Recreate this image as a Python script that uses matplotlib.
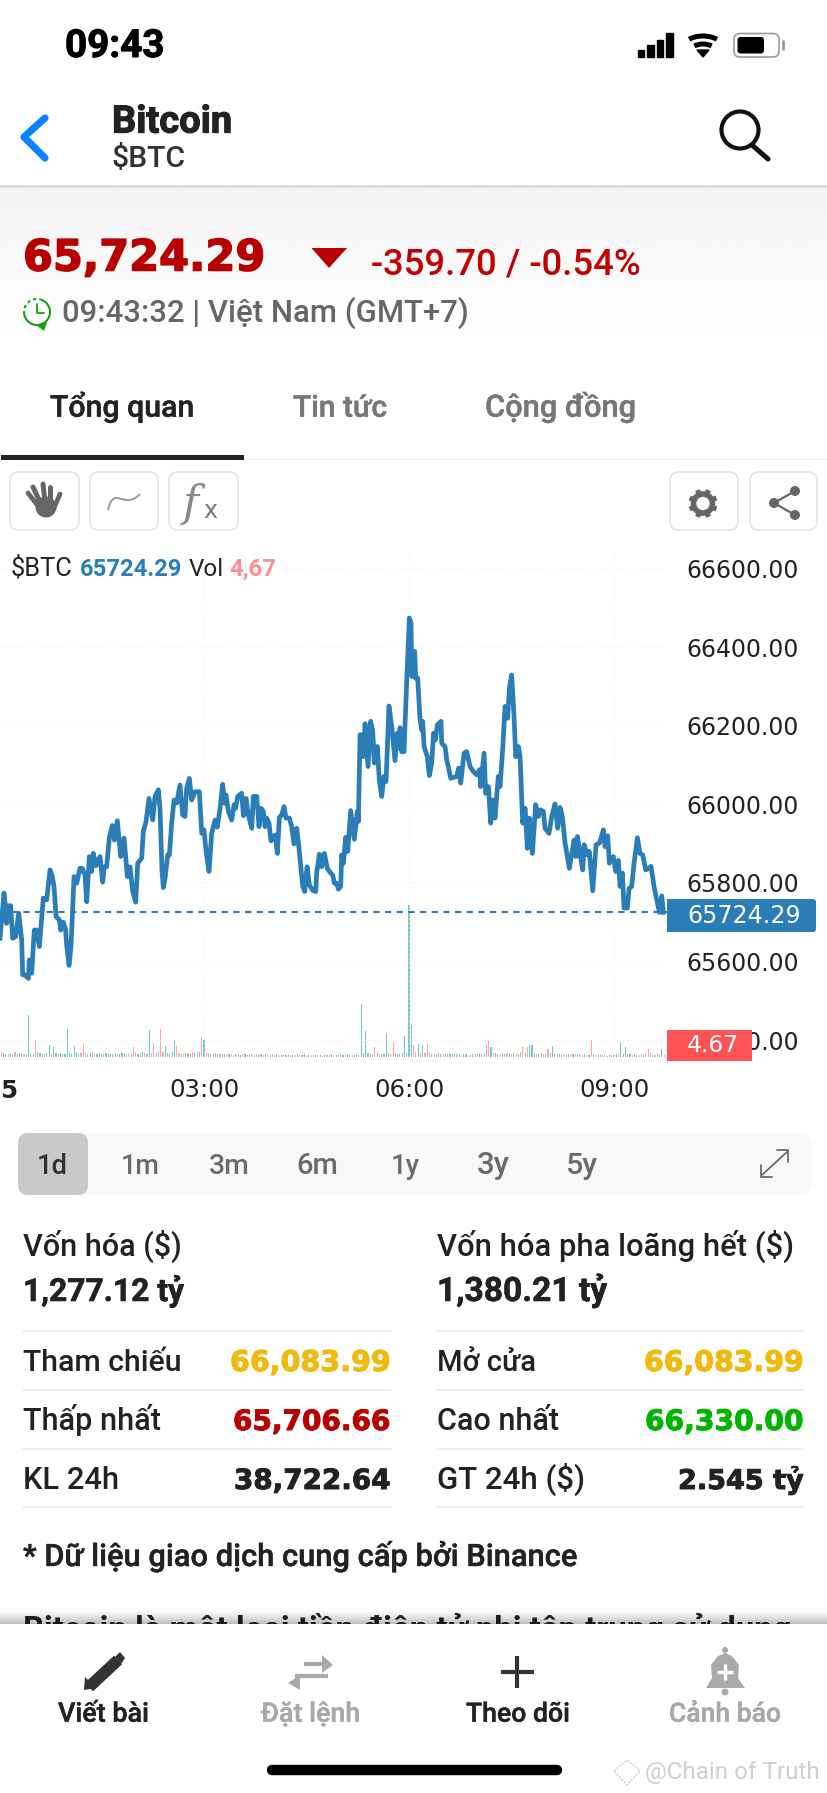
import numpy as np
import matplotlib
matplotlib.use("Agg")
import matplotlib.pyplot as plt
import matplotlib.patheffects as pe
from matplotlib.patches import FancyBboxPatch, Rectangle, Circle, Polygon, Arc, PathPatch
from matplotlib.path import Path
from matplotlib.transforms import ScaledTranslation

FONT = "Roboto"
plt.rcParams["font.family"] = [FONT, "DejaVu Sans"]

# price line, minutes since midnight
line_min = [0.9, 2.3, 4.4, 5.9, 6.7, 8.5, 10.2, 12.0, 14.6, 17.3, 19.9, 20.8, 22.8, 25.8, 26.6, 28.7, 31.0, 33.1, 35.4, 38.9,
            41.9, 44.8, 46.8, 48.3, 50.1, 53.0, 54.2, 56.5, 58.5, 59.4, 61.5, 63.2, 65.9, 68.2, 71.1, 73.2, 75.5, 77.0, 79.3, 81.4,
            82.8, 85.2, 88.7, 91.0, 92.5, 94.5, 96.9, 99.5, 101.3, 103.9, 106.8, 109.8, 112.7, 115.0, 117.4, 120.0, 121.8, 125.3, 126.7, 129.1,
            131.7, 135.0, 137.0, 139.9, 141.4, 143.1, 144.3, 145.8, 148.1, 149.6, 151.6, 153.7, 156.0, 158.9, 161.3, 163.3, 164.8, 167.1, 169.2, 172.1,
            175.9, 178.0, 180.0, 181.8, 184.4, 186.7, 189.7, 191.7, 194.1, 196.4, 197.9, 199.3, 201.4, 204.3, 206.4, 207.8, 209.6, 213.1, 214.6, 216.9,
            218.9, 221.9, 223.3, 226.3, 228.3, 230.1, 232.1, 233.6, 235.0, 237.1, 238.8, 242.4, 244.4, 246.2, 248.2, 250.3, 252.0, 254.9, 257.0, 259.0,
            261.4, 263.1, 265.2, 266.7, 268.4, 270.5, 272.5, 275.4, 278.1, 278.9, 281.3, 283.3, 285.7, 288.3, 291.2, 293.0, 294.5, 296.5, 298.0, 300.0,
            300.9, 302.4, 304.4, 306.2, 308.8, 312.0, 314.6, 315.5, 317.0, 318.7, 319.9, 321.4, 322.8, 324.0, 326.3, 328.1, 329.5, 332.2, 333.9, 336.0,
            338.0, 339.8, 342.4, 344.8, 347.7, 349.7, 351.2, 352.1, 353.5, 355.6, 357.9, 360.3, 361.7, 362.6, 365.0, 365.8, 367.6, 369.6, 371.1, 372.0,
            373.2, 376.1, 377.8, 379.9, 381.6, 383.1, 384.9, 388.1, 388.7, 391.6, 393.1, 394.5, 396.6, 401.8, 403.6, 405.4, 408.3, 410.6, 413.6, 416.5,
            419.4, 421.8, 422.9, 425.9, 427.3, 429.7, 431.7, 433.5, 435.5, 438.4, 439.9, 442.2, 444.3, 446.6, 448.1, 450.1, 452.2, 453.7, 456.0, 457.5,
            459.8, 461.9, 463.9, 465.7, 468.3, 471.2, 473.6, 475.6, 478.0, 479.4, 482.9, 485.3, 488.2, 490.5, 492.6, 494.6, 497.0, 500.8, 504.9, 506.6,
            507.8, 510.1, 512.5, 513.7, 516.6, 518.3, 521.3, 524.2, 527.1, 528.6, 530.6, 532.1, 534.4, 535.9, 539.4, 541.5, 543.8, 545.3, 547.3, 548.8,
            551.7, 553.2, 555.5, 557.6, 560.5, 562.8, 565.2, 567.8, 570.2, 572.5, 575.1, 579.8, 581.9, 583.3]
line_price = [65658, 65705, 65773, 65730, 65696, 65741, 65741, 65658, 65662, 65722, 65654, 65565, 65565, 65556, 65603, 65569, 65679, 65679, 65637, 65760,
              65756, 65832, 65815, 65790, 65713, 65705, 65679, 65699, 65679, 65641, 65589, 65637, 65815, 65798, 65836, 65836, 65819, 65751, 65866, 65828,
              65874, 65843, 65866, 65801, 65840, 65840, 65915, 65945, 65908, 65957, 65866, 65913, 65815, 65840, 65777, 65750, 65849, 65862, 65930, 65955,
              66014, 65959, 66019, 66036, 65985, 65832, 65787, 65811, 65870, 65870, 65951, 66010, 66002, 66048, 65972, 65968, 66040, 66065, 66010, 66031,
              66031, 65925, 65934, 65879, 65828, 65925, 65959, 65941, 65989, 66050, 66002, 66023, 65981, 65959, 65998, 65989, 66019, 66027, 65970, 66014,
              65972, 65938, 66019, 66019, 65942, 65989, 65981, 65942, 65964, 65951, 65906, 65921, 65874, 65966, 65972, 65993, 65964, 65964, 65942, 65898,
              65938, 65896, 65832, 65790, 65777, 65840, 65794, 65780, 65777, 65824, 65872, 65840, 65874, 65836, 65824, 65819, 65798, 65798, 65783, 65790,
              65870, 65849, 65915, 65879, 65983, 65910, 65981, 65955, 66176, 66176, 66120, 66204, 66146, 66095, 66210, 66188, 66104, 66146, 66061, 66019,
              66070, 66057, 66249, 66197, 66110, 66180, 66142, 66194, 66133, 66133, 66307, 66473, 66460, 66324, 66388, 66320, 66320, 66218, 66188, 66210,
              66146, 66120, 66072, 66104, 66180, 66163, 66201, 66210, 66154, 66146, 66112, 66095, 66065, 66070, 66091, 66053, 66129, 66133, 66095, 66082,
              66074, 66087, 66044, 66129, 66027, 66044, 65951, 66010, 65964, 66070, 66044, 66138, 66248, 66218, 66294, 66328, 66222, 66120, 66146, 66120,
              65951, 65989, 65887, 65964, 65874, 65998, 65968, 65985, 65981, 65938, 65925, 65968, 66000, 65938, 65991, 65968, 65900, 65836, 65908, 65866,
              65917, 65874, 65832, 65896, 65870, 65879, 65779, 65896, 65900, 65913, 65934, 65891, 65919, 65849, 65866, 65828, 65856, 65790, 65824, 65735,
              65735, 65785, 65790, 65849, 65914, 65874, 65870, 65832, 65836, 65841, 65790, 65724, 65766, 65724.29]

# volume every 2 min, negative = down bar
volume = [9, -12, 10, 8, -7, 9, 7, -11, 8, 9, 10, -8, 7, 98, 9, 8, -40, 11, 9, 7,
          -8, 9, 28, -7, 23, 10, -8, 9, 7, 8, 65, 10, 8, 26, 12, 9, -10, -33, -12, 8,
          9, 11, -8, 7, 9, 8, -7, 9, 8, 6, 7, 9, -8, 7, 9, 8, -7, -9, 8, -23,
          -12, 8, 9, 11, -9, 8, 63, -10, -33, 9, -14, -65, -12, 26, 9, 8, 11, 40, -26, -9,
          8, -7, 9, -10, 8, -12, 9, -13, 11, -47, 40, -12, -9, 8, 7, 9, 6, -7, 8, 6,
          -5, 7, -6, 5, 7, -6, 5, -7, 6, 5, -6, 7, 5, -6, 5, 6, -5, 7, -6, 5,
          -6, 5, 6, -5, 4, -6, 5, -7, 4, 5, -5, 6, -4, 5, 7, -5, 4, -5, 4, -4,
          -4, 5, -3, 4, -4, 5, 6, -3, 4, -5, 6, 5, -4, 6, 5, -4, 5, 6, -4, 124,
          9, 61, 10, 8, -7, -23, 9, -8, 7, 8, 56, 9, -8, -35, -10, 8, 7, 9, 49, 9,
          355, 75, -28, -12, 30, -10, 26, -9, -30, -12, 8, 7, -6, 9, 7, -6, 8, -7, 6, 7,
          -8, 6, 7, -5, 6, 7, -4, -5, 6, 7, -6, 8, -7, 9, -28, -37, 23, -9, 10, 8,
          -7, 9, 8, -10, 9, -8, 10, -9, 8, -11, -26, 9, -23, 28, 28, 9, -8, 7, 9, -7,
          8, -19, 9, 26, 8, -7, 6, 5, -6, 5, 7, -5, 6, -7, 5, 6, -5, 7, -4, 5,
          -40, 6, -5, 4, -6, 5, -4, 3, 5, -4, 5, 6, 5, 35, 8, 23, 6, 7, -5, 6,
          5, -4, 6, -5, -7, -19, -9, 5, -4, 6, -4, 19, -4.67]

last_price = 65724.29
last_vol = 4.67
price_ticks = [66600, 66400, 66200, 66000, 65800, 65600, 65400]
time_ticks = [180, 360, 540]
time_labels = ["03:00", "06:00", "09:00"]
range_labels = ["1d", "1m", "3m", "6m", "1y", "3y", "5y"]

W, H = 828, 1793
BLUE = "#2b7db8"
DARK = "#222222"
GREY = "#6b6b6b"
LIGHT = "#a8a8a8"
RED = "#b80000"
YELLOW = "#f0b90b"
GREEN = "#00b500"
WIDE = ["DejaVu Sans"]

fig = plt.figure(figsize=(W / 100, H / 100), dpi=100, facecolor="white")


def box(x0, y0, x1, y1):
    return [x0 / W, 1 - y1 / H, (x1 - x0) / W, (y1 - y0) / H]


# chart: real scales, placed on the screenshot's chart area
ax = fig.add_axes(box(0, 550, 667, 1057), zorder=2)
ax.patch.set_alpha(0)
ax.set_xlim(0.88, 586.5)
ax.set_ylim(65356, 66646)
ax.plot(line_min, line_price, color=BLUE, lw=3.4, solid_joinstyle="round", zorder=3)
ax.axhline(last_price, color=BLUE, lw=1.5, dashes=(3, 2.6), zorder=2)
ax.set_yticks(price_ticks)
ax.set_yticklabels(["%.2f" % p for p in price_ticks], family="DejaVu Sans", fontsize=17, color=DARK)
ax.yaxis.tick_right()
ax.tick_params(axis="y", length=0, pad=14.2)
ax.set_xticks(time_ticks)
ax.set_xticklabels(time_labels, family="DejaVu Sans", fontsize=17.6, color=DARK)
ax.tick_params(axis="x", length=0, pad=15)
ax.grid(True, color="#efefef", lw=0.8, ls=(0, (1, 3)))
ax.set_axisbelow(True)
for s in ax.spines.values():
    s.set_visible(False)
for lab in ax.get_yticklabels():
    lab.set_transform(lab.get_transform() + ScaledTranslation(0, -0.5 / 100, fig.dpi_scale_trans))

vol_ax = fig.add_axes(box(0, 550, 667, 1057), zorder=1)
vol_ax.set_xlim(0.88, 586.5)
vol_ax.set_ylim(0, 1181)
vol_ax.axis("off")
vol_x = np.arange(len(volume)) * 2.0
vol_v = np.array(volume)
vol_ax.bar(vol_x, np.abs(vol_v), width=1.0,
           color=["#6fcabd" if v > 0 else "#ffa3a3" for v in vol_v], linewidth=0)

# everything around the chart, in screenshot pixels
ui = fig.add_axes([0, 0, 1, 1], zorder=10)
ui.patch.set_alpha(0)
ui.set_xlim(0, W)
ui.set_ylim(H, 0)
ui.axis("off")
renderer = fig.canvas.get_renderer()


def put(x0, x1, y, s, color=DARK, weight="normal", family=None, heavy=0, **kw):
    fam = family if family else [FONT, "DejaVu Sans"]
    t = ui.text(x0, y, s, color=color, fontweight=weight, family=fam, fontsize=20,
                va="baseline", ha="left", **kw)
    t.set_fontsize(20 * (x1 - x0) / t.get_window_extent(renderer).width)
    if heavy:
        t.set_path_effects([pe.withStroke(linewidth=heavy, foreground=color)])
    return t


def rbox(x0, y0, x1, y1, r, **kw):
    p = FancyBboxPatch((x0 + r, y0 + r), x1 - x0 - 2 * r, y1 - y0 - 2 * r,
                       boxstyle="round,pad=%f,rounding_size=%f" % (r, r), **kw)
    ui.add_patch(p)
    return p


def seg(xs, ys, color, lw, **kw):
    ui.plot(xs, ys, color=color, lw=lw, solid_capstyle=kw.pop("cap", "round"), **kw)


# status bar
put(65, 164, 57, "09:43", "black", "bold", heavy=0.7)
for i, h in enumerate([7, 12, 17, 24]):
    ui.add_patch(Rectangle((638 + i * 9.5, 56.5 - h), 6.5, h, color="black"))
for r in (21, 13):
    ui.add_patch(Arc((703, 57), 2 * r * 1.25, 2 * r, theta1=232, theta2=308, color="black", lw=3.6))
ui.add_patch(Polygon([(703, 57), (697, 50), (709, 50)], color="black"))
rbox(734, 33.5, 779, 57, 6, fc="white", ec="#9a9a9a", lw=1.2)
rbox(737.5, 37, 764, 53.5, 3, fc="black", ec="none")
seg([783, 783], [41, 49], "#9a9a9a", 2)

# header
seg([45, 24, 45], [118, 137, 158], "#0a84ff", 5.2, solid_joinstyle="round")
put(112, 232, 132.6, "Bitcoin", DARK, "bold", heavy=0.8)
put(112, 186, 167, "$BTC", "#333333", "medium")
ui.add_patch(Circle((740, 130), 18.5, fc="none", ec="#111111", lw=3))
seg([752, 768], [145, 159], "#111111", 3.6)
ui.add_patch(Rectangle((0, 185), W, 2.5, color="#dcdcdc", lw=0))

# quote panel
grad = np.linspace(0.955, 1, 64).reshape(-1, 1)
ui.imshow(grad, extent=(0, W, 350, 187.5), cmap="gray", vmin=0, vmax=1, aspect="auto", zorder=0)
ui.set_xlim(0, W)
ui.set_ylim(H, 0)
put(23, 266, 270.5, "65,724.29", RED, "bold", family=WIDE, heavy=1.1)
ui.add_patch(Polygon([(311.5, 248), (347, 248), (329, 268)], color=RED, lw=0))
put(370.6, 641, 274.5, "-359.70 / -0.54%", "#c40000", "medium")
ui.add_patch(Arc((37, 312), 26, 26, theta1=-75, theta2=170, color="#12a012", lw=1.5))
ui.add_patch(Arc((37, 312), 26, 26, theta1=170, theta2=285, color="#12a012", lw=1.5, ls=(0, (1.5, 1.5))))
seg([37, 37, 44], [304, 313, 313], "#12a012", 1.3)
ui.add_patch(Polygon([(36, 325), (47, 322), (44, 331)], color="#12a012", lw=0))
put(62, 469, 322, "09:43:32 | Việt Nam (GMT+7)", "#666666", "medium")

# tabs
put(50, 194, 416.7, "Tổng quan", "#222222", "medium", heavy=0.3)
put(293, 387, 416.7, "Tin tức", "#777777", "medium", heavy=0.3)
put(485, 636, 416.7, "Cộng đồng", "#777777", "medium", heavy=0.3)
ui.add_patch(Rectangle((244, 458.5), W - 244, 1.5, color="#efefef", lw=0))
ui.add_patch(Rectangle((1, 455), 243, 4.5, color="#222222", lw=0))

# tool buttons
for x0, x1 in [(10, 79), (90, 158), (169, 238), (670, 738), (750, 817)]:
    rbox(x0, 472, x1, 530, 9, fc="white", ec="#e6e6e6", lw=1.3)
ui.add_patch(Circle((46, 507), 10.5, color="#666666", lw=0))
for xs, ys, w in [((38, 28), (506, 493), 3.4), ((40, 33), (502, 487), 3.6), ((45, 43), (502, 484), 3.6),
                  ((50, 50), (502, 487), 3.6), ((54, 60), (508, 494), 3.4)]:
    seg(xs, ys, "#666666", w)
ui.add_patch(PathPatch(Path([(108, 510), (114, 484), (124, 511), (140, 494)],
                            [Path.MOVETO, Path.CURVE4, Path.CURVE4, Path.CURVE4]),
                       fc="none", ec="#9a9a9a", lw=1.4))
ui.text(183, 516, "f", family="DejaVu Serif", style="italic", fontsize=31, color="#888888", ha="left", va="baseline")
ui.text(203, 518.5, "x", family="DejaVu Sans", fontsize=17, color="#777777", ha="left", va="baseline")
ui.add_patch(Circle((703, 503.5), 9.5, fc="white", ec="#666666", lw=4))
for a in np.deg2rad(np.arange(0, 360, 45) + 22.5):
    seg([703 + 11 * np.cos(a), 703 + 14.5 * np.cos(a)], [503.5 + 11 * np.sin(a), 503.5 + 14.5 * np.sin(a)],
        "#666666", 3.6, cap="butt")
seg([795, 774, 795], [491, 503, 515], "#666666", 1.6)
for cx, cy in [(795, 491), (774, 503), (795, 515)]:
    ui.add_patch(Circle((cx, cy), 5, color="#666666", lw=0))

# chart legend and last value boxes
put(11, 73, 576, "$BTC", DARK)
put(80, 182, 576, "65724.29", BLUE, "bold")
put(189, 224, 576, "Vol", DARK)
put(229, 276, 576, "4,67", "#ff8e8e", "bold")
ui.text(0, 1097.6, "5", family="DejaVu Sans", fontsize=17.6, color=DARK, ha="left", va="baseline", fontweight="bold")
rbox(667, 899, 816, 932, 3, fc=BLUE, ec="none")
ui.add_patch(Rectangle((667, 899), 6, 33, color=BLUE, lw=0))
put(687, 800, 923, "%.2f" % last_price, "white", family="DejaVu Sans")
ui.add_patch(Rectangle((667, 1030), 85, 31, color="#fc5454", lw=0))
put(687, 739, 1052, "%.2f" % last_vol, "white", family="DejaVu Sans")

# range selector
rbox(18, 1133, 812, 1195, 14, fc="#f8f8f8", ec="none")
rbox(18, 1133, 88, 1195, 10, fc="#c9c9c9", ec="none")
range_x = [(37, 68), (121, 160), (209, 250), (296, 338), (391, 420), (477, 510), (566, 598)]
for lab, (x0, x1) in zip(range_labels, range_x):
    put(x0, x1, 1174, lab, "#333333" if lab == "1d" else GREY, "medium")
seg([762, 788], [1175, 1151], GREY, 1.3)
seg([761, 761, 772], [1165, 1177, 1177], GREY, 1.3)
seg([777, 788, 788], [1150, 1150, 1162], GREY, 1.3)

# stats block
put(23, 182, 1255.5, "Vốn hóa ($)", DARK, "medium")
put(437, 793, 1255.5, "Vốn hóa pha loãng hết ($)", DARK, "medium")
put(23, 184, 1301, "1,277.12 tỷ", DARK, "bold", heavy=0.4)
put(437, 607, 1301, "1,380.21 tỷ", DARK, "bold", heavy=0.4)
for y in (1331, 1389.5, 1448.5, 1507):
    seg([23, 391], [y, y], "#ececec", 1.2)
    seg([437, 804], [y, y], "#ececec", 1.2)
rows = [(1371, "Tham chiếu", 182, "66,083.99", 230, YELLOW, "Mở cửa", 536, "66,083.99", 644, YELLOW),
        (1430, "Thấp nhất", 161, "65,706.66", 233, RED, "Cao nhất", 559, "66,330.00", 645, GREEN),
        (1489, "KL 24h", 119, "38,722.64", 234, DARK, "GT 24h ($)", 585, "2.545 tỷ", 678, DARK)]
for y, l1, l1x, v1, v1x, c1, l2, l2x, v2, v2x, c2 in rows:
    put(23, l1x, y, l1, DARK, "medium")
    put(v1x, 391, y, v1, c1, "bold", family=WIDE, heavy=0.7)
    put(437, l2x, y, l2, DARK, "medium")
    put(v2x, 804, y, v2, c2, "bold", family=WIDE, heavy=0.7)
put(23, 577, 1566, "* Dữ liệu giao dịch cung cấp bởi Binance", DARK, "medium", heavy=0.3)

# clipped paragraph, bottom bar on top of it
put(23, 787, 1640, "Bitcoin là một loại tiền điện tử phi tập trung sử dụng", DARK, "bold", zorder=2)
shade = np.zeros((32, 1, 4))
shade[:, 0, 3] = np.linspace(0, 0.3, 32) ** 1.5 * 1.6
ui.imshow(shade, extent=(0, W, 1624, 1608), aspect="auto", zorder=3)
ui.set_xlim(0, W)
ui.set_ylim(H, 0)
ui.add_patch(Rectangle((0, 1624), W, H - 1624, color="white", lw=0, zorder=4))

seg([89, 118], [1687, 1660], "#333333", 8.5, zorder=5, cap="butt")
ui.add_patch(Polygon([(84, 1690), (85, 1677), (96, 1688)], color="#333333", lw=0, zorder=5))
ui.add_patch(Polygon([(115, 1657), (120, 1652), (125, 1658), (121, 1664)], color="#333333", lw=0, zorder=5))
seg([295, 328], [1676, 1676], "#aaaaaa", 3, zorder=5, cap="butt")
ui.add_patch(Polygon([(288, 1683), (300, 1675), (300, 1690)], color="#aaaaaa", lw=0, zorder=5))
seg([304, 326], [1664, 1664], "#aaaaaa", 3, zorder=5, cap="butt")
ui.add_patch(Polygon([(333, 1665), (322, 1655), (322, 1673)], color="#aaaaaa", lw=0, zorder=5))
seg([501, 534], [1671.5, 1671.5], "#333333", 3, zorder=5, cap="butt")
seg([517.5, 517.5], [1656, 1688], "#333333", 3, zorder=5, cap="butt")
ui.add_patch(Polygon([(706, 1688), (712, 1678), (711, 1665), (718, 1656), (725, 1653), (732, 1656), (739, 1665),
                      (738, 1678), (745, 1688)], closed=True, color="#aaaaaa", lw=0, zorder=5))
ui.add_patch(Circle((725, 1650), 3, color="#aaaaaa", lw=0, zorder=5))
ui.add_patch(Circle((725, 1692), 3.5, color="#aaaaaa", lw=0, zorder=5))
seg([717, 733], [1672, 1672], "white", 2.5, zorder=6, cap="butt")
seg([725, 725], [1664, 1680], "white", 2.5, zorder=6, cap="butt")

put(58, 149, 1721.7, "Viết bài", DARK, "medium", zorder=5, heavy=0.3)
put(261, 360, 1721.7, "Đặt lệnh", LIGHT, "medium", zorder=5, heavy=0.3)
put(466, 570, 1721.7, "Theo dõi", DARK, "medium", zorder=5, heavy=0.3)
put(669, 781, 1721.7, "Cảnh báo", LIGHT, "medium", zorder=5, heavy=0.3)
seg([272, 557], [1769.5, 1769.5], "black", 7.5, zorder=5)

# watermark
ui.add_patch(Polygon([(614, 1771), (627, 1760), (640, 1771), (627, 1785)], closed=True, fc="none", ec="#cccccc",
                     lw=1, ls=(0, (1.5, 1)), zorder=5))
put(645, 820, 1779, "@Chain of Truth", "#cfcfcf", zorder=5)

fig.savefig("out.png", dpi=100)
